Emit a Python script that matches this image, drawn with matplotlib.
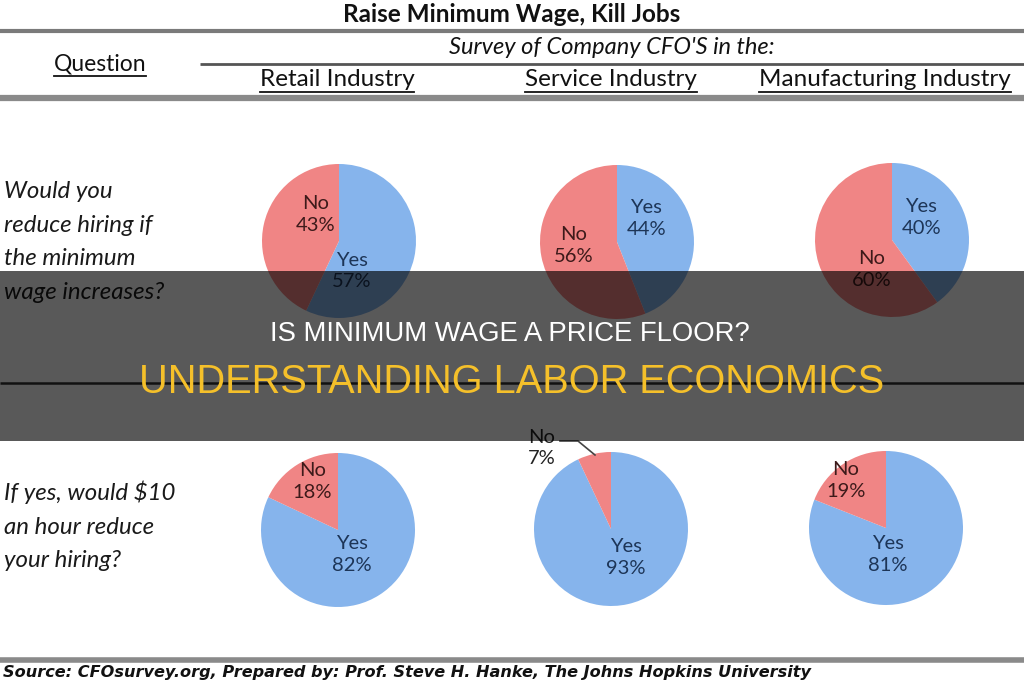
import matplotlib
matplotlib.use('Agg')
import matplotlib.pyplot as plt
from matplotlib.patches import Rectangle
from matplotlib.lines import Line2D
from matplotlib import font_manager

# ---------------- data ----------------
title = 'Raise Minimum Wage, Kill Jobs'
subtitle = "Survey of Company CFO'S in the:"
industries = ['Retail Industry', 'Service Industry', 'Manufacturing Industry']
questions = ['Would you\nreduce hiring if\nthe minimum\nwage increases?',
             'If yes, would $10\nan hour reduce\nyour hiring?']
answers = ['Yes', 'No']
yes_q1 = [57, 44, 40]
no_q1 = [43, 56, 60]
yes_q2 = [82, 93, 81]
no_q2 = [18, 7, 19]
source = 'Source: CFOsurvey.org, Prepared by: Prof. Steve H. Hanke, The Johns Hopkins University'
banner1 = 'IS MINIMUM WAGE A PRICE FLOOR?'
banner2 = 'UNDERSTANDING LABOR ECONOMICS'

# ---------------- layout (pixels) ----------------
W, H = 1024, 680
row_centers = [[(339, 241), (617, 242), (892, 240)],
               [(338, 530), (611, 529), (886, 528)]]
radius = 77
# label offsets (dx, dy in radius units, y up) for [Yes, No]
label_off = [[[(0.17, -0.39), (-0.30, 0.34)],
              [(0.38, 0.31), (-0.56, -0.04)],
              [(0.38, 0.29), (-0.26, -0.38)]],
             [[(0.18, -0.32), (-0.33, 0.63)],
              [(0.19, -0.37), None],
              [(0.02, -0.34), (-0.52, 0.62)]]]

BLUE = '#86b4ec'
RED = '#f08585'
YES_TXT = '#1d3557'
NO_TXT = '#3d1a1a'

def pick(fams):
    names = {f.name for f in font_manager.fontManager.ttflist}
    for f in fams:
        if f in names:
            return f
    return 'DejaVu Sans'

BODY = pick(['Lato', 'Open Sans', 'DejaVu Sans'])
BANNER = pick(['Liberation Sans', 'DejaVu Sans'])

fig = plt.figure(figsize=(W / 100, H / 100), dpi=100)
fig.patch.set_facecolor('white')

base = fig.add_axes([0, 0, 1, 1])
base.set_xlim(0, W)
base.set_ylim(H, 0)
base.axis('off')

# header text
base.text(512, 15, title, ha='center', va='center', fontsize=17.5,
          fontweight='bold', family=BODY, color='#111111')
base.text(612, 47, subtitle, ha='center', va='center', fontsize=17,
          style='italic', family=BODY, color='#111111')
hdr = []
hdr.append(base.text(100, 64, 'Question', ha='center', va='center', fontsize=16.5,
                     family=BODY, color='#111111'))
for x, name in zip([337, 611, 885], industries):
    hdr.append(base.text(x, 80, name, ha='center', va='center', fontsize=17.5,
                         family=BODY, color='#111111'))

# rules
base.plot([0, W], [31, 31], color='#7a7a7a', lw=3, solid_capstyle='butt')
base.plot([200, W], [64, 64], color='#555555', lw=2, solid_capstyle='butt')
base.plot([0, W], [98, 98], color='#8a8a8a', lw=4.5, solid_capstyle='butt')
base.plot([0, W], [383, 383], color='#333333', lw=1.8, solid_capstyle='butt')
base.plot([0, W], [660, 660], color='#8a8a8a', lw=4, solid_capstyle='butt')

# question text
base.text(4, 242, questions[0], ha='left', va='center', fontsize=17.3,
          style='italic', family=BODY, color='#1a1a1a', linespacing=1.73)
base.text(4, 526, questions[1], ha='left', va='center', fontsize=17.3,
          style='italic', family=BODY, color='#1a1a1a', linespacing=1.73)

base.text(3, 677, source, ha='left', va='baseline', fontsize=11.6, style='italic',
          fontweight='bold', family='DejaVu Sans', color='#111111')

# pies
rows = [(yes_q1, no_q1), (yes_q2, no_q2)]
for ri, (yes_vals, no_vals) in enumerate(rows):
    for ci in range(3):
        cx, cy = row_centers[ri][ci]
        ax = fig.add_axes([(cx - radius) / W, (H - cy - radius) / H,
                           2 * radius / W, 2 * radius / H])
        vals = [yes_vals[ci], no_vals[ci]]
        ax.pie(vals, colors=[BLUE, RED], startangle=90, counterclock=False,
               radius=1, wedgeprops=dict(edgecolor='none'))
        ax.set_xlim(-1, 1)
        ax.set_ylim(-1, 1)
        ax.axis('off')
        for k, (lab, v) in enumerate(zip(answers, vals)):
            off = label_off[ri][ci][k]
            col = YES_TXT if lab == 'Yes' else NO_TXT
            if off is None:
                # outside label with leader line
                base.text(542, 448, f'{lab}\n{v}%', ha='center', va='center',
                          fontsize=14.5, family=BODY, color='#222222', linespacing=1.35)
                base.plot([560, 578, 595], [441, 441, 455], color='#444444', lw=1.2)
                continue
            base.text(cx + off[0] * radius, cy - off[1] * radius, f'{lab}\n{v}%',
                      ha='center', va='center', fontsize=14.5, family=BODY,
                      color=col, linespacing=1.35, zorder=5)

# make label base axes sit above pies
base.set_zorder(3)
base.patch.set_alpha(0)

# banner overlay
over = fig.add_axes([0, 0, 1, 1])
over.set_zorder(10)
over.set_xlim(0, W)
over.set_ylim(H, 0)
over.axis('off')
over.add_patch(Rectangle((0, 271), W, 170, facecolor='black', alpha=0.65,
                         edgecolor='none'))
over.text(510, 334, banner1, ha='center', va='center', fontsize=19.8,
          family=BANNER, color='white')
over.text(512, 382, banner2, ha='center', va='center', fontsize=28.6,
          family=BANNER, color='#f5c02a')

# underlines for header labels
fig.canvas.draw()
r = fig.canvas.get_renderer()
for t in hdr:
    bb = t.get_window_extent(r)
    y = bb.y0 - 1
    fig.add_artist(Line2D([bb.x0 / W, bb.x1 / W], [y / H, y / H],
                          transform=fig.transFigure, color='#111111', lw=1.3))

fig.savefig('out.png', dpi=100, facecolor='white')
